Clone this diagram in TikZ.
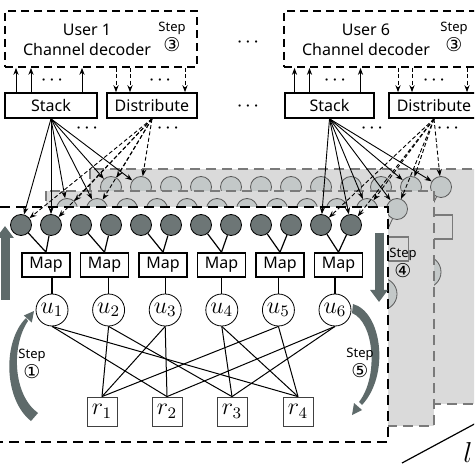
\documentclass[tikz,border=0pt]{standalone}
\usepackage{fontspec}
\setsansfont{Noto Sans}
\newfontfamily\circfont{DejaVu Sans}
\usepackage{xcolor}
\usetikzlibrary{arrows.meta}

\definecolor{symfill}{HTML}{6D7676}
\definecolor{ghostfill}{HTML}{C3C8C8}
\definecolor{layerfill}{HTML}{DADADA}
\definecolor{ghostline}{HTML}{7A7A7A}
\definecolor{arrowgray}{HTML}{5E6A6A}

\newcommand{\stepmark}[1]{Step\\[0pt]{\circfont\fontsize{9.5}{9.5}\selectfont #1}}

\begin{document}
\begin{tikzpicture}[x=0.5pt, y=-0.5pt,
  every node/.style={font=\sffamily\fontsize{8}{10}\selectfont},
  decoder/.style={draw, line width=0.9pt, dash pattern=on 4pt off 2.5pt,
                  minimum width=96pt, minimum height=28pt},
  blk/.style={draw, line width=0.8pt, minimum height=12.5pt, inner sep=0pt},
  mapbox/.style={blk, minimum width=24pt, minimum height=12pt},
  ghostmap/.style={draw=ghostline, line width=0.8pt, fill=layerfill,
                   minimum width=24pt, minimum height=12pt},
  sym/.style={circle, draw, fill=symfill, minimum size=10.5pt, inner sep=0pt},
  ghostsym/.style={circle, draw=black!65, fill=ghostfill, minimum size=10.5pt, inner sep=0pt},
  usr/.style={circle, draw, fill=white, minimum size=16pt, inner sep=0pt,
              font=\fontsize{12}{12}\selectfont},
  ghostusr/.style={circle, draw=black!65, fill=ghostfill, minimum size=16pt, inner sep=0pt},
  res/.style={draw=black!75, fill=white, minimum width=15pt, minimum height=14.5pt,
              inner sep=0pt, font=\fontsize{12}{12}\selectfont},
  steptxt/.style={align=center, inner sep=0pt, font=\sffamily\fontsize{6.5}{10}\selectfont},
  dots/.style={inner sep=0pt, font=\boldmath\fontsize{7.5}{7.5}\selectfont},
  layer/.style={fill=layerfill, draw=ghostline, line width=1pt, dash pattern=on 5pt off 3pt},
  frontedge/.style={line width=1.3pt, dash pattern=on 5pt off 3pt},
  fan/.style={-{Stealth[length=3.5pt,width=2.6pt]}, line width=0.45pt},
  fandash/.style={fan, dash pattern=on 2pt off 1.2pt},
  bigarrow/.style={arrowgray, line width=4.5pt, -{Triangle[length=6pt,width=8.5pt]}},
]
\useasboundingbox (0,0) rectangle (474,474);
\clip (0,0) rectangle (474,474);

% layers behind (back, then middle)
\foreach \lay/\dx/\dy in {b/90/-38, m/46/-16} {
  \begin{scope}[shift={(\dx,\dy)}]
    \filldraw[layer] (0,207) rectangle (388,442);
    \foreach \k in {1,...,12}
      \node[ghostsym] (sym\lay\k) at ({21+30*(\k-1)},225) {};
    \foreach \i in {1,...,6} {
      \pgfmathtruncatemacro{\ka}{2*\i-1}
      \pgfmathtruncatemacro{\kb}{2*\i}
      \node[ghostmap] (map\lay\i) at ({46+58.5*(\i-1)},265) {};
      \node[ghostusr] (u\lay\i) at ({52+56.6*(\i-1)},310) {};
      \draw[black!65] (sym\lay\ka) -- (map\lay\i.north) (sym\lay\kb) -- (map\lay\i.north);
      \draw[black!65] (map\lay\i.south -| u\lay\i) -- (u\lay\i);
    }
  \end{scope}
}

% front layer
\fill[white] (0,207) rectangle (388,442);
\draw[frontedge] (0,207) -- (388,207) -- (388,442) -- (0,442);

\foreach \k in {1,...,12}
  \node[sym] (sym\k) at ({21+30*(\k-1)},225) {};
\foreach \i in {1,...,6} {
  \pgfmathtruncatemacro{\ka}{2*\i-1}
  \pgfmathtruncatemacro{\kb}{2*\i}
  \node[mapbox] (map\i) at ({46+58.5*(\i-1)},265) {Map};
  \node[usr] (u\i) at ({52+56.6*(\i-1)},310) {$u_{\i}$};
  \draw[line width=0.6pt] (sym\ka) -- (map\i.north) (sym\kb) -- (map\i.north);
  \draw[line width=0.6pt] (map\i.south -| u\i) -- (u\i);
}
\foreach \j/\x in {1/102, 2/167, 3/232, 4/298}
  \node[res] (r\j) at (\x,411.5) {$r_{\j}$};
\foreach \u/\r in {1/2, 1/4, 2/1, 2/3, 3/1, 3/2, 4/3, 4/4, 5/1, 5/4, 6/2, 6/3}
  \draw[line width=0.5pt] (u\u.south) -- (r\r.north);

% decoders
\node[decoder] (dec1) at (101,39) {};
\node[align=center] (dectxt1) at (87,40) {User 1\\Channel decoder};
\node[steptxt] (stepc1) at (172,37) {\stepmark{③}};
\node[decoder] (dec6) at (380,39) {};
\node[align=center] (dectxt6) at (366,40) {User 6\\Channel decoder};
\node[steptxt] (stepc6) at (454,37) {\stepmark{③}};
\node[dots] (dotsu) at (248,42) {$\cdots$};
\node[dots] (dotsb) at (248,106) {$\cdots$};

\node[blk, minimum width=46pt] (stk1) at (51,105.5) {Stack};
\node[blk, minimum width=45pt] (dis1) at (152,105.5) {Distribute};
\node[blk, minimum width=44.5pt] (stk6) at (329.5,105.5) {Stack};
\node[blk, minimum width=45pt] (dis6) at (434,105.5) {Distribute};

\foreach \s in {1,6} {
  \foreach \o in {-17.5pt,-10pt,15.5pt}
    \draw[fan, line width=0.5pt] ([xshift=\o]stk\s.north) -- ([xshift=\o]stk\s.north |- dec\s.south);
  \foreach \o in {-18pt,-11pt,16.5pt}
    \draw[fandash, line width=0.5pt] ([xshift=\o]dis\s.north |- dec\s.south) -- ([xshift=\o]dis\s.north);
}
\node[dots] (dsk1) at (52,80) {$\cdots$};
\node[dots] (ddi1) at (160,80) {$\cdots$};
\node[dots] (dsk6) at (335,80) {$\cdots$};
\node[dots] (ddi6) at (434,80) {$\cdots$};
\node[dots] (fsk1) at (87,128) {$\cdots$};
\node[dots] (fdi1) at (168,128) {$\cdots$};
\node[dots] (fsk6) at (372,128) {$\cdots$};
\node[dots] (fdi6) at (448,128) {$\cdots$};

% stack / distribute to the symbols of every layer
\foreach \s/\a/\b in {1/1/2, 6/11/12} {
  \foreach \t in {sym\a, sym\b, symm\a, symm\b, symb\a, symb\b} {
    \draw[fan] (stk\s.south) -- (\t);
    \draw[fandash] (dis\s.south) -- (\t);
  }
}

% step arrows
\coordinate (lupA) at (5,300);
\coordinate (lupB) at (5,226);
\draw[bigarrow] (lupA) -- (lupB);
\coordinate (rdnA) at (379,233);
\coordinate (rdnB) at (379,302);
\draw[bigarrow] (rdnA) -- (rdnB);
\node[steptxt] (step4) at (403,263) {\stepmark{④}};

\fill[arrowgray] (31,421) .. controls (4,400) and (2,342) .. (26,318)
  -- (28,321) .. controls (11,346) and (13,395) .. (38,413) -- cycle;
\fill[arrowgray] (34,311) -- (31.8,322.5) -- (23.8,315.5) -- cycle;
\node[steptxt] (step1) at (32,364) {\stepmark{①}};

\fill[arrowgray] (353,304) .. controls (382,312) and (390,375) .. (362,405)
  -- (359,402) .. controls (379,376) and (374,322) .. (352,313) -- cycle;
\fill[arrowgray] (352,415) -- (362,410) -- (354,403) -- cycle;
\node[steptxt] (step5) at (360,363) {\stepmark{⑤}};

% axis hint
\coordinate (axA) at (402,463);
\coordinate (axB) at (480,421);
\draw[line width=0.6pt] (axA) -- (axB);
\node[inner sep=0pt, font=\fontsize{15}{15}\selectfont] (ell) at (468,452) {$l$};
\end{tikzpicture}
\end{document}
